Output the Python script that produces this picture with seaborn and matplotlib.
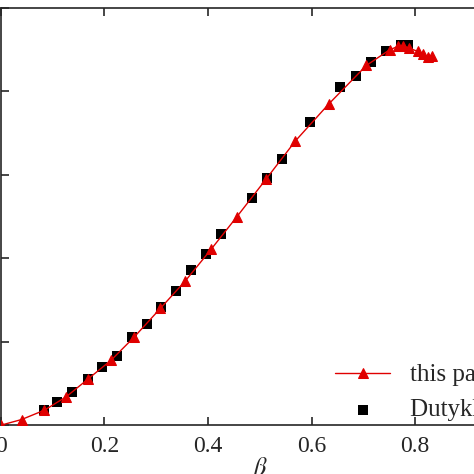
import matplotlib
matplotlib.use("Agg")
import matplotlib.pyplot as plt
import seaborn as sns
import pandas as pd

# this paper (red triangles with line)
paper_beta = [0.0, 0.040, 0.084, 0.126, 0.168, 0.213, 0.258, 0.308, 0.356, 0.406, 0.456,
              0.512, 0.569, 0.633, 0.706, 0.751, 0.767, 0.776, 0.789, 0.805, 0.815, 0.825, 0.832]
paper_val = [0.0, 0.068, 0.18, 0.34, 0.552, 0.78, 1.06, 1.40, 1.728, 2.108, 2.5,
             2.948, 3.408, 3.848, 4.312, 4.5, 4.54, 4.548, 4.52, 4.48, 4.45, 4.41, 4.43]

# Dutykh and Clamond (black squares)
ref_beta = [0.084, 0.108, 0.137, 0.168, 0.195, 0.224, 0.253, 0.282, 0.309, 0.338, 0.367,
            0.396, 0.425, 0.485, 0.514, 0.543, 0.598, 0.656, 0.685, 0.714, 0.744, 0.773, 0.786]
ref_val = [0.18, 0.272, 0.4, 0.552, 0.692, 0.828, 1.052, 1.212, 1.42, 1.608, 1.86,
           2.052, 2.288, 2.72, 2.96, 3.192, 3.636, 4.048, 4.188, 4.356, 4.48, 4.552, 4.552]

x_ticks = [0.0, 0.2, 0.4, 0.6, 0.8]
x_tick_labels = ["0", "0.2", "0.4", "0.6", "0.8"]

sns.set_theme(style="ticks")
plt.rcParams["font.family"] = "serif"
plt.rcParams["font.serif"] = ["Liberation Serif", "DejaVu Serif"]
plt.rcParams["mathtext.fontset"] = "stix"

fig = plt.figure(figsize=(4.74, 4.74), dpi=100)
ax = fig.add_axes([0.002, 0.103, 1.092, 0.880])

df_ref = pd.DataFrame({"beta": ref_beta, "val": ref_val})
df_paper = pd.DataFrame({"beta": paper_beta, "val": paper_val})

sns.scatterplot(data=df_ref, x="beta", y="val", marker="s", s=45, color="black",
                edgecolor="black", linewidth=0, ax=ax, label="Dutykh and Clamond", zorder=2)
sns.lineplot(data=df_paper, x="beta", y="val", color="#e00000", linewidth=1.0,
             marker="^", markersize=7, markeredgecolor="#e00000", ax=ax,
             label="this paper", zorder=3, sort=False)

ax.set_xlim(0, 1.0)
ax.set_ylim(0, 5.0)
ax.set_xticks(x_ticks)
ax.set_xticklabels(x_tick_labels, fontsize=17)
ax.set_yticks([0, 1, 2, 3, 4, 5])
ax.set_yticklabels([])
ax.tick_params(direction="in", top=True, right=True, length=6, width=1.2, pad=8)
for s in ax.spines.values():
    s.set_linewidth(1.2)
ax.set_xlabel(r"$\beta$", fontsize=19, labelpad=-2)
ax.set_ylabel("")

handles, labels = ax.get_legend_handles_labels()
order = [labels.index("this paper"), labels.index("Dutykh and Clamond")]
ax.legend([handles[i] for i in order], [labels[i] for i in order],
          loc="upper left", bbox_to_anchor=(0.66, 0.28), bbox_transform=fig.transFigure,
          frameon=False, fontsize=18, handlelength=2.2, labelspacing=0.5)

fig.savefig("out.png", dpi=100)
